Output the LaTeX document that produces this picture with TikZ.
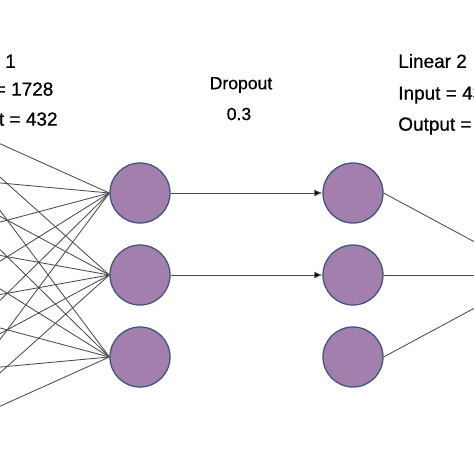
\documentclass[tikz,border=0pt]{standalone}
\usepackage{fontspec}
\setmainfont{Liberation Sans}
\newfontfamily\sidefont[WordSpace=1.6,FakeBold=0.6]{Liberation Sans}
\newfontfamily\midfont[FakeBold=0.6]{Liberation Sans}
\usetikzlibrary{arrows.meta}

\definecolor{nodefill}{RGB}{162,127,172}
\definecolor{nodeedge}{RGB}{62,84,128}
\definecolor{wiregray}{RGB}{75,75,75}

\begin{document}
\begin{tikzpicture}[x=0.025cm, y=-0.025cm, >={Latex[length=2mm,width=1.7mm]},
    neuron/.style={circle, draw=nodeedge, fill=nodefill, line width=0.9pt, minimum size=1.5cm, inner sep=0pt},
    wire/.style={draw=wiregray, line width=0.6pt},
    lbl/.style={font=\midfont\fontsize{12.5}{15}\selectfont, inner sep=0pt},
    side/.style={font=\sidefont\fontsize{13.5}{16}\selectfont, inner sep=0pt, anchor=west}]
    \fill[white] (0,0) rectangle (474,474);
    \clip (0,0) rectangle (474,474);
    \foreach \i/\y in {1/193,2/275,3/357} {
      \node[neuron] (a\i) at (140,\y) {};
      \node[neuron] (b\i) at (353,\y) {};
    }
    \foreach \k/\y in {1/110,2/176,3/242,4/308,5/374,6/440}
      \coordinate (in\k) at (-75,\y);
    \coordinate (out) at (536,275);
    \foreach \k in {1,...,6}
      \foreach \i in {1,2,3}
        \draw[wire] (in\k) -- (a\i.west);
    \draw[wire,-{Latex[length=2mm,width=1.7mm,fill=black]}] (a1) -- (b1);
    \draw[wire,-{Latex[length=2mm,width=1.7mm,fill=black]}] (a2) -- (b2);
    \foreach \i in {1,2,3}
      \draw[wire] (b\i.east) -- (out);
    \node[side] (l1name) at (-53,61) {Linear 1};
    \node[side] (l1in) at (-53,91) {Input = 1728};
    \node[side] (l1out) at (-53,121) {Output = 432};
    \node[lbl] (drop) at (241,85) {Dropout};
    \node[lbl] (rate) at (239,114) {0.3};
    \node[side] (l2name) at (398,61) {Linear 2};
    \node[side] (l2in) at (398,95) {Input = 432};
    \node[side] (l2out) at (398,126) {Output =};
\end{tikzpicture}
\end{document}
